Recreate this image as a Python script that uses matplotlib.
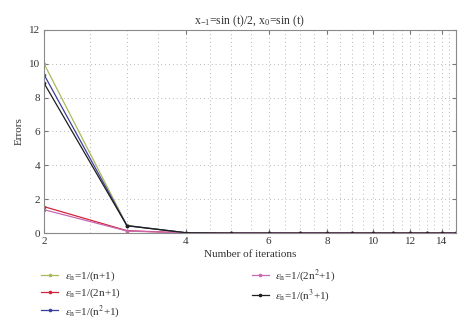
import matplotlib
matplotlib.use("Agg")
import matplotlib.pyplot as plt
import numpy as np
from matplotlib.ticker import FixedLocator, NullFormatter

plt.rcParams['font.family'] = ['Liberation Serif', 'DejaVu Serif']
plt.rcParams['mathtext.fontset'] = 'stix'
plt.rcParams['font.size'] = 8

# iteration numbers and error values for each epsilon sequence
n = [2, 3, 4, 5, 6, 7, 8, 9, 10, 11, 12, 13, 14, 15]
err_n1 = [10.0, 0.45, 0.02, 0, 0, 0, 0, 0, 0, 0, 0, 0, 0, 0]
err_2n1 = [1.56, 0.14, 0.01, 0, 0, 0, 0, 0, 0, 0, 0, 0, 0, 0]
err_n2 = [9.35, 0.44, 0.02, 0, 0, 0, 0, 0, 0, 0, 0, 0, 0, 0]
err_2n2 = [1.38, 0.12, 0.01, 0, 0, 0, 0, 0, 0, 0, 0, 0, 0, 0]
err_n3 = [8.85, 0.43, 0.02, 0, 0, 0, 0, 0, 0, 0, 0, 0, 0, 0]

labels = [r'$\epsilon_{\mathrm{n}}$=1/(n+1)',
          r'$\epsilon_{\mathrm{n}}$=1/(2n+1)',
          r'$\epsilon_{\mathrm{n}}$=1/(n$^{2}$+1)',
          r'$\epsilon_{\mathrm{n}}$=1/(2n$^{2}$+1)',
          r'$\epsilon_{\mathrm{n}}$=1/(n$^{3}$+1)']
colors = ['#a9b95c', '#d0253a', '#3b3f9a', '#c768b0', '#1e1e1e']
series = [err_n1, err_2n1, err_n2, err_2n2, err_n3]

xticks = [2, 4, 6, 8, 10, 12, 14]
xgrid = list(np.arange(2.5, 15, 0.5))
yticks = [0, 2, 4, 6, 8, 10, 12]

fig = plt.figure(figsize=(4.74, 3.32), dpi=100)
ax = fig.add_axes([0.093, 0.298, 0.869, 0.612])

for ys, c, lab in zip(series, colors, labels):
    ax.plot(n, ys, color=c, lw=0.9, marker='o', markersize=1.6, label=lab)

ax.set_xscale('log')
ax.set_xlim(2, 15)
ax.set_ylim(0, 12)
ax.xaxis.set_major_locator(FixedLocator(xticks))
ax.set_xticklabels([str(t) for t in xticks])
ax.xaxis.set_minor_locator(FixedLocator(xgrid))
ax.xaxis.set_minor_formatter(NullFormatter())
ax.set_yticks(yticks)

grid_style = dict(ls=(0, (1, 3)), color='#b8b8b8', lw=0.7)
ax.grid(True, which='both', axis='x', **grid_style)
ax.grid(True, which='major', axis='y', **grid_style)
ax.tick_params(which='major', direction='in', top=True, right=True, length=3,
               color='#777777', labelcolor='#333333', pad=3)
ax.tick_params(which='minor', length=0)
for s in ax.spines.values():
    s.set_color('#8a8a8a')
    s.set_linewidth(0.8)

ax.set_title(r'x$_{\mathregular{-1}}$=sin (t)/2, x$_{\mathregular{0}}$=sin (t)',
             color='#333333', pad=4, fontsize=8.5)
ax.set_xlabel('Number of iterations', color='#333333', labelpad=3)
ax.set_ylabel('Errors', color='#333333', labelpad=4)

fig.legend(loc='upper left', bbox_to_anchor=(0.078, 0.208), ncol=2,
           frameon=False, handlelength=1.5, handletextpad=0.6,
           columnspacing=11.8, labelspacing=0.3, borderaxespad=0,
           labelcolor='#333333')

fig.savefig('out.png', dpi=100)
